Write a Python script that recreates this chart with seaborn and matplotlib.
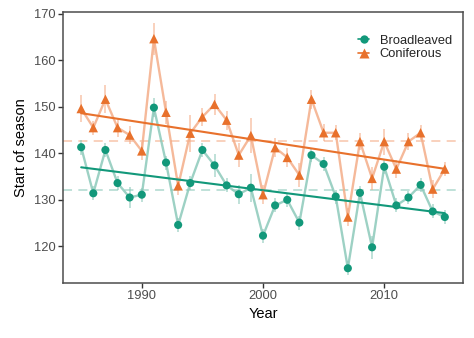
import numpy as np
import pandas as pd
import matplotlib
matplotlib.use("Agg")
import matplotlib.pyplot as plt
from matplotlib.lines import Line2D
import seaborn as sns

years = list(range(1985, 2016))
broadleaved = [141.3, 131.4, 140.7, 133.6, 130.5, 131.1, 149.8, 138.0, 124.6, 133.6,
               140.7, 137.4, 133.1, 131.2, 132.6, 122.3, 128.8, 130.0, 125.1, 139.6,
               137.7, 130.7, 115.3, 131.5, 119.8, 137.1, 128.8, 130.5, 133.2, 127.5, 126.3]
broadleaved_err = [1.6, 1.5, 1.5, 1.5, 2.3, 1.5, 2.0, 1.5, 1.5, 1.5,
                   1.5, 2.5, 1.5, 2.0, 3.0, 1.5, 1.5, 1.5, 1.5, 1.5,
                   1.5, 1.5, 1.5, 1.5, 2.5, 1.5, 1.5, 1.5, 1.5, 1.5, 1.5]
coniferous = [149.6, 145.5, 151.6, 145.5, 143.9, 140.5, 164.6, 148.8, 133.0, 144.3,
              147.8, 150.5, 147.1, 139.6, 143.8, 131.1, 141.2, 139.1, 135.3, 151.6,
              144.4, 144.4, 126.3, 142.5, 134.6, 142.5, 136.6, 142.5, 144.4, 132.3, 136.6]
coniferous_err = [2.9, 1.5, 3.0, 2.1, 2.0, 2.0, 3.4, 2.5, 2.0, 4.0,
                  2.0, 2.2, 2.0, 2.5, 3.7, 2.0, 2.0, 2.0, 2.5, 2.0,
                  1.8, 1.6, 2.0, 1.8, 2.5, 2.8, 2.0, 1.8, 1.6, 2.0, 1.5]
series_names = ["Broadleaved", "Coniferous"]

df = pd.DataFrame({
    "Year": years * 2,
    "SOS": broadleaved + coniferous,
    "err": broadleaved_err + coniferous_err,
    "Type": ["Broadleaved"] * len(years) + ["Coniferous"] * len(years),
})

colors = {"Broadleaved": "#12987a", "Coniferous": "#e8712c"}
light = {"Broadleaved": "#8cc9ba", "Coniferous": "#f4ad88"}
markers = {"Broadleaved": "o", "Coniferous": "^"}
msize = {"Broadleaved": 34, "Coniferous": 46}

sns.set_style("white")
plt.rcParams["font.family"] = ["Liberation Sans", "DejaVu Sans"]

fig = plt.figure(figsize=(4.74, 3.38), dpi=100)
ax = fig.add_axes([0.1329, 0.1636, 0.8439, 0.8018])

for name in series_names:
    sub = df[df["Type"] == name]
    # dashed mean line
    ax.axhline(sub["SOS"].mean(), color=light[name], lw=1.3, ls=(0, (5, 3.5)), alpha=0.6, zorder=1)
    # error bars
    ax.vlines(sub["Year"], sub["SOS"] - sub["err"], sub["SOS"] + sub["err"],
              color=light[name], lw=1.3, alpha=0.6, zorder=2)
    # connecting line
    sns.lineplot(data=sub, x="Year", y="SOS", ax=ax, color=light[name], lw=1.7,
                 alpha=0.85, zorder=3, legend=False)

for name in series_names:
    sub = df[df["Type"] == name]
    sns.regplot(data=sub, x="Year", y="SOS", ax=ax, scatter=False, ci=None,
                line_kws={"color": colors[name], "lw": 1.5, "zorder": 4}, truncate=True)

for name in series_names:
    sub = df[df["Type"] == name]
    sns.scatterplot(data=sub, x="Year", y="SOS", ax=ax, color=colors[name],
                    marker=markers[name], s=msize[name], edgecolor="none", zorder=5, legend=False)

ax.set_xlim(1983.5, 2016.5)
ax.set_ylim(112.2, 170.4)
ax.set_xticks([1990, 2000, 2010])
ax.set_yticks([120, 130, 140, 150, 160, 170])
ax.tick_params(axis="both", which="major", direction="out", length=3.5, width=1.0,
               color="#333333", labelcolor="#4d4d4d", labelsize=9.3, pad=2,
               bottom=True, left=True)
for sp in ax.spines.values():
    sp.set_color("#4d4d4d")
    sp.set_linewidth(1.1)
ax.set_xlabel("Year", fontsize=10.5, color="black", labelpad=3)
ax.set_ylabel("Start of season", fontsize=10.5, color="black", labelpad=4)

handles = [Line2D([0], [0], color=colors[n], marker=markers[n], markersize=6 if n == "Broadleaved" else 7,
                  lw=1.2, markeredgecolor="none") for n in series_names]
ax.legend(handles, series_names, loc="upper right", bbox_to_anchor=(0.985, 0.935), frameon=False,
          fontsize=9.3, handlelength=0.9, handletextpad=0.8, labelspacing=0.15, borderaxespad=0)

fig.savefig("out.png", dpi=100)
